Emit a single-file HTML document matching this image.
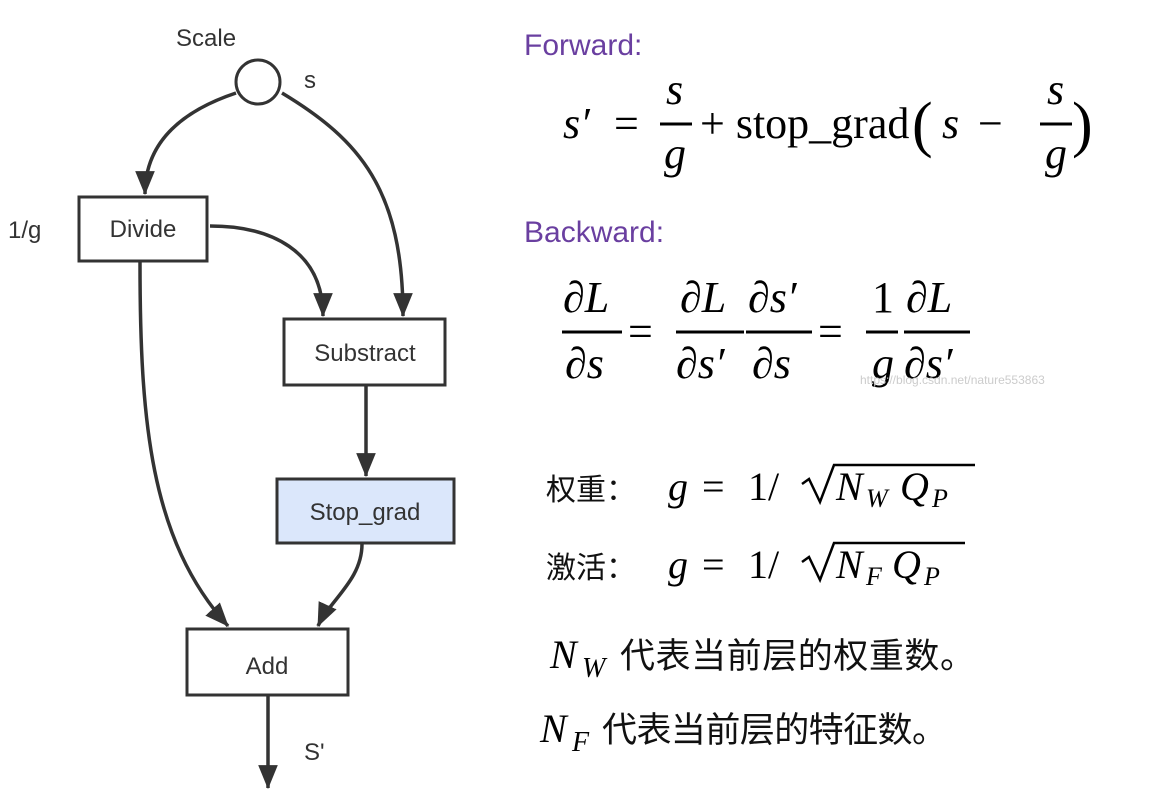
<!DOCTYPE html>
<html><head><meta charset="utf-8"><style>
html,body{margin:0;padding:0;background:#fff;}
svg{display:block}
.s{font-family:"Liberation Sans",sans-serif;fill:#333}
.m{font-family:"Liberation Serif",serif;fill:#000}
.c{font-family:"Liberation Sans","Noto Sans CJK SC",sans-serif;fill:#111}
</style></head><body>
<svg width="1154" height="802" viewBox="0 0 1154 802" xmlns="http://www.w3.org/2000/svg">
<defs>
<marker id="b" viewBox="0 0 22 18" markerWidth="24" markerHeight="20" refX="21" refY="9" orient="auto" markerUnits="userSpaceOnUse"><path d="M0 0 L22 9 L0 18 Z" fill="#333"/></marker></defs>
<g fill="none" stroke="#333" stroke-width="3.5">
<circle cx="258" cy="82" r="22" stroke-width="3"/>
<path d="M236 93 C185 110 145 140 145 194" marker-end="url(#b)"/>
<path d="M282 93 C360 140 403 190 403 316" marker-end="url(#b)"/>
<path d="M210 226 C270 226 323 250 323 316" marker-end="url(#b)"/>
<path d="M140 262 C140 420 150 540 228 626" marker-end="url(#b)"/>
<path d="M366 386 L366 476" marker-end="url(#b)"/>
<path d="M362 544 C362 580 330 600 318 626" marker-end="url(#b)"/>
<path d="M268 696 L268 788" marker-end="url(#b)"/>
<rect x="79" y="197" width="128" height="64" fill="#fff" stroke-width="3"/>
<rect x="284" y="319" width="161" height="66" fill="#fff" stroke-width="3"/>
<rect x="277" y="479" width="177" height="64" fill="#dbe7fb" stroke-width="3"/>
<rect x="187" y="629" width="161" height="66" fill="#fff" stroke-width="3"/>
</g>
<text class="s" x="176" y="46" font-size="24">Scale</text>
<text class="s" x="304" y="88" font-size="24">s</text>
<text class="s" x="8" y="238" font-size="24">1/g</text>
<text class="s" x="143" y="237" font-size="24" text-anchor="middle">Divide</text>
<text class="s" x="365" y="361" font-size="24" text-anchor="middle">Substract</text>
<text class="s" x="365" y="520" font-size="24" text-anchor="middle">Stop_grad</text>
<text class="s" x="267" y="674" font-size="24" text-anchor="middle">Add</text>
<text class="s" x="304" y="760" font-size="24">S'</text>

<text x="524" y="55" font-size="30" font-family="Liberation Sans,sans-serif" fill="#6a3fa0">Forward:</text>
<text x="524" y="242" font-size="30" font-family="Liberation Sans,sans-serif" fill="#6a3fa0">Backward:</text>

<g class="m" font-size="44">
<text x="563" y="138" font-style="italic">s′</text>
<text x="614" y="138">=</text>
<text x="666" y="104" font-style="italic">s</text>
<line x1="660" y1="124" x2="692" y2="124" stroke="#000" stroke-width="3"/>
<text x="664" y="168" font-style="italic">g</text>
<text x="700" y="138">+ stop_grad</text>
<text x="912" y="145" font-size="62">(</text>
<text x="942" y="138" font-style="italic">s</text>
<text x="978" y="138">−</text>
<text x="1047" y="104" font-style="italic">s</text>
<line x1="1040" y1="124" x2="1072" y2="124" stroke="#000" stroke-width="3"/>
<text x="1045" y="168" font-style="italic">g</text>
<text x="1072" y="145" font-size="62">)</text>

<text x="563" y="312" font-style="italic">∂L</text>
<line x1="562" y1="332" x2="622" y2="332" stroke="#000" stroke-width="3"/>
<text x="565" y="378" font-style="italic">∂s</text>
<text x="628" y="346">=</text>
<text x="680" y="312" font-style="italic">∂L</text>
<line x1="676" y1="332" x2="744" y2="332" stroke="#000" stroke-width="3"/>
<text x="676" y="378" font-style="italic">∂s′</text>
<text x="748" y="312" font-style="italic">∂s′</text>
<line x1="746" y1="332" x2="812" y2="332" stroke="#000" stroke-width="3"/>
<text x="752" y="378" font-style="italic">∂s</text>
<text x="818" y="346">=</text>
<text x="872" y="312">1</text>
<line x1="866" y1="332" x2="898" y2="332" stroke="#000" stroke-width="3"/>
<text x="872" y="378" font-style="italic">g</text>
<text x="906" y="312" font-style="italic">∂L</text>
<line x1="904" y1="332" x2="970" y2="332" stroke="#000" stroke-width="3"/>
<text x="904" y="378" font-style="italic">∂s′</text>
</g>
<text x="860" y="384" font-size="12" fill="#ccc" font-family="Liberation Sans,sans-serif">https://blog.csdn.net/nature553863</text>

<text class="c" x="546" y="500" font-size="30">权重：</text>
<text class="c" x="546" y="578" font-size="30">激活：</text>
<g class="m" font-size="40">
<text x="668" y="500" font-style="italic">g</text>
<text x="702" y="500">=</text>
<text x="748" y="500">1/</text>
<path d="M802 484 L809 479 L820 502 L834 465 L975 465" fill="none" stroke="#000" stroke-width="2.5"/>
<text x="836" y="500" font-style="italic">N</text><text x="866" y="507" font-size="26" font-style="italic">W</text>
<text x="900" y="500" font-style="italic">Q</text><text x="932" y="507" font-size="26" font-style="italic">P</text>
<text x="668" y="578" font-style="italic">g</text>
<text x="702" y="578">=</text>
<text x="748" y="578">1/</text>
<path d="M802 562 L809 557 L820 580 L834 543 L965 543" fill="none" stroke="#000" stroke-width="2.5"/>
<text x="836" y="578" font-style="italic">N</text><text x="866" y="585" font-size="26" font-style="italic">F</text>
<text x="892" y="578" font-style="italic">Q</text><text x="924" y="585" font-size="26" font-style="italic">P</text>
<text x="550" y="668" font-style="italic">N</text><text x="582" y="677" font-size="28" font-style="italic">W</text>
<text x="540" y="742" font-style="italic">N</text><text x="572" y="751" font-size="28" font-style="italic">F</text>
</g>
<text class="c" x="620" y="668" font-size="35" textLength="355">代表当前层的权重数。</text>
<text class="c" x="602" y="742" font-size="35" textLength="345">代表当前层的特征数。</text>
</svg>
</body></html>
